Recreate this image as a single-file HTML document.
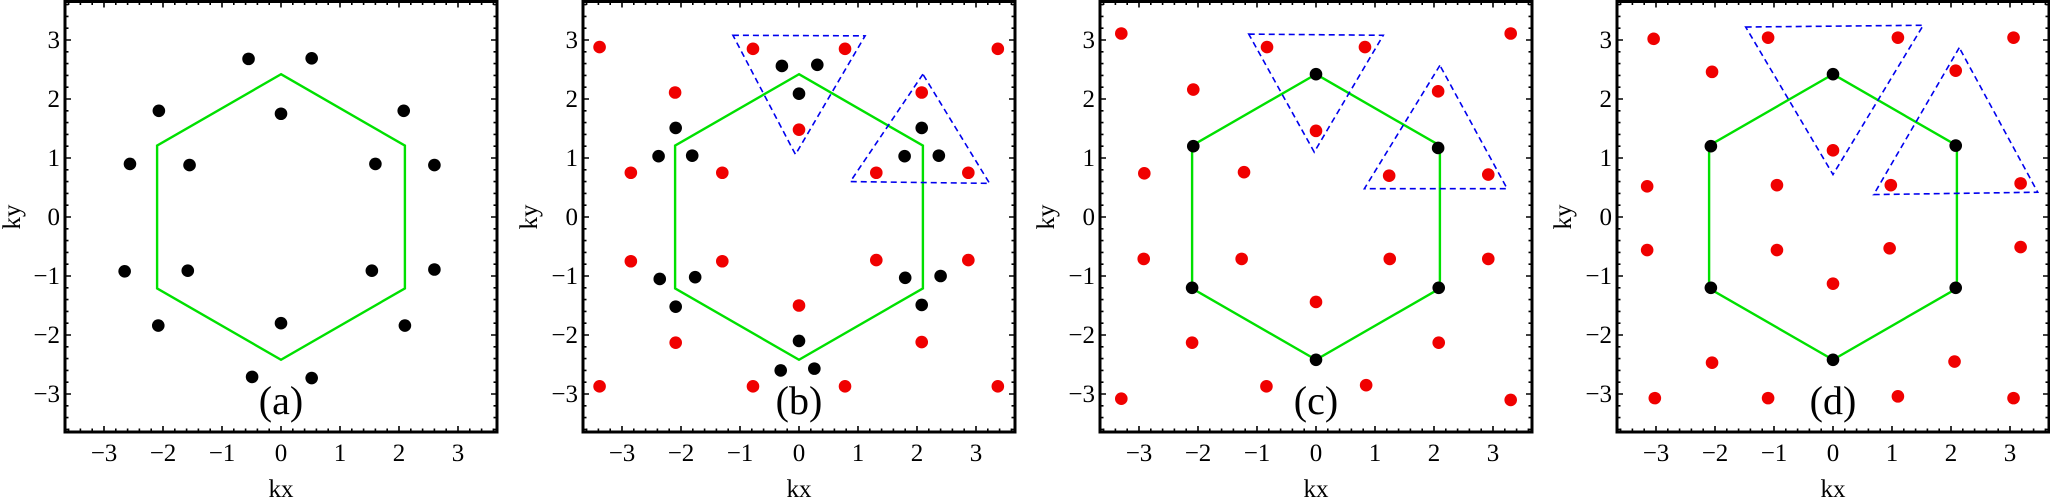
<!DOCTYPE html>
<html><head><meta charset="utf-8"><style>
html,body{margin:0;padding:0;background:#fff;width:2050px;height:500px;overflow:hidden}
svg text{font-family:"Liberation Serif",serif;fill:#000}
.t{font-size:25px}
.lab{font-size:25px}
.pl{font-size:40px}
</style></head><body>
<svg id="s" width="2050" height="500" viewBox="0 0 2050 500" xmlns="http://www.w3.org/2000/svg">
<g id="g"></g>
<g class="t" text-anchor="middle">
<text x="104" y="461">−3</text><text x="163" y="461">−2</text><text x="222" y="461">−1</text><text x="281" y="461">0</text><text x="340" y="461">1</text><text x="399" y="461">2</text><text x="458" y="461">3</text>
<text x="622" y="461">−3</text><text x="681" y="461">−2</text><text x="740" y="461">−1</text><text x="799" y="461">0</text><text x="858" y="461">1</text><text x="917" y="461">2</text><text x="976" y="461">3</text>
<text x="1139" y="461">−3</text><text x="1198" y="461">−2</text><text x="1257" y="461">−1</text><text x="1316" y="461">0</text><text x="1375" y="461">1</text><text x="1434" y="461">2</text><text x="1493" y="461">3</text>
<text x="1656" y="461">−3</text><text x="1715" y="461">−2</text><text x="1774" y="461">−1</text><text x="1833" y="461">0</text><text x="1892" y="461">1</text><text x="1951" y="461">2</text><text x="2010" y="461">3</text>
</g>
<g class="t" text-anchor="end">
<text x="60" y="48">3</text><text x="60" y="107">2</text><text x="60" y="166">1</text><text x="60" y="225">0</text><text x="60" y="284">−1</text><text x="60" y="343">−2</text><text x="60" y="402">−3</text>
<text x="578" y="48">3</text><text x="578" y="107">2</text><text x="578" y="166">1</text><text x="578" y="225">0</text><text x="578" y="284">−1</text><text x="578" y="343">−2</text><text x="578" y="402">−3</text>
<text x="1095" y="48">3</text><text x="1095" y="107">2</text><text x="1095" y="166">1</text><text x="1095" y="225">0</text><text x="1095" y="284">−1</text><text x="1095" y="343">−2</text><text x="1095" y="402">−3</text>
<text x="1612" y="48">3</text><text x="1612" y="107">2</text><text x="1612" y="166">1</text><text x="1612" y="225">0</text><text x="1612" y="284">−1</text><text x="1612" y="343">−2</text><text x="1612" y="402">−3</text>
</g>
<g class="lab" text-anchor="middle">
<text x="281" y="497">kx</text><text x="799" y="497">kx</text><text x="1316" y="497">kx</text><text x="1833" y="497">kx</text>
<text transform="translate(20,217) rotate(-90)">ky</text>
<text transform="translate(537,217) rotate(-90)">ky</text>
<text transform="translate(1054,217) rotate(-90)">ky</text>
<text transform="translate(1571,217) rotate(-90)">ky</text>
</g>
<g class="pl" text-anchor="middle">
<text x="281" y="414">(a)</text><text x="799" y="414">(b)</text><text x="1316" y="414">(c)</text><text x="1833" y="414">(d)</text>
</g>
</svg>
<script>
const NS="http://www.w3.org/2000/svg",G=document.getElementById("g");
const S=59,CY=217;
function el(n,a){const e=document.createElementNS(NS,n);for(const k in a)e.setAttribute(k,a[k]);G.appendChild(e);return e;}
const hex=[[0,2.42],[2.1,1.21],[2.1,-1.21],[0,-2.42],[-2.1,-1.21],[-2.1,1.21]];
const P=[
{cx:281,black:[[-0.55,2.68],[0.52,2.69],[-2.07,1.80],[2.08,1.80],[0,1.75],[-2.56,0.9],[-1.55,0.88],[1.6,0.9],[2.6,0.88],[-2.65,-0.92],[-1.58,-0.91],[1.54,-0.91],[2.6,-0.89],[-2.08,-1.84],[2.1,-1.84],[0,-1.8],[-0.49,-2.71],[0.52,-2.73]],red:[],tri:[]},
{cx:799,red:[[-3.38,2.88],[-0.78,2.85],[0.78,2.85],[3.37,2.85],[-2.1,2.11],[2.08,2.11],[0,1.48],[-2.85,0.75],[-1.3,0.75],[1.31,0.75],[2.87,0.75],[-2.85,-0.75],[-1.3,-0.75],[1.31,-0.73],[2.87,-0.73],[0,-1.5],[-2.09,-2.13],[2.08,-2.12],[-3.38,-2.87],[-0.78,-2.87],[0.78,-2.87],[3.37,-2.87]],
 black:[[-0.29,2.56],[0.31,2.58],[0,2.09],[-2.09,1.51],[-2.38,1.03],[-1.81,1.04],[2.08,1.51],[1.79,1.03],[2.37,1.04],[-2.36,-1.05],[-1.76,-1.02],[-2.09,-1.52],[1.8,-1.03],[2.4,-1.0],[2.08,-1.49],[0,-2.1],[-0.31,-2.6],[0.26,-2.57]],
 tri:[[[-1.12,3.08],[1.12,3.07],[-0.06,1.06]],[[2.1,2.42],[0.87,0.6],[3.23,0.57]]]},
{cx:1316,red:[[-3.3,3.11],[3.3,3.11],[-0.83,2.88],[0.83,2.88],[-2.08,2.16],[2.07,2.13],[0,1.46],[-2.91,0.74],[-1.22,0.76],[1.24,0.7],[2.92,0.72],[-2.92,-0.71],[-1.26,-0.71],[1.25,-0.71],[2.92,-0.71],[0,-1.44],[-2.1,-2.13],[2.08,-2.13],[-3.3,-3.08],[-0.84,-2.87],[0.85,-2.85],[3.3,-3.1]],
 black:[[0,2.42],[-2.08,1.2],[2.07,1.17],[-2.1,-1.2],[2.08,-1.2],[0,-2.42]],
 tri:[[[-1.14,3.1],[1.14,3.08],[-0.03,1.1]],[[2.1,2.57],[0.82,0.48],[3.24,0.48]]]},
{cx:1833,red:[[-3.04,3.02],[-1.1,3.04],[1.1,3.04],[3.06,3.04],[-2.05,2.46],[2.08,2.48],[0,1.13],[-3.15,0.52],[-0.95,0.54],[0.98,0.54],[3.18,0.57],[-3.15,-0.56],[-0.95,-0.56],[0.96,-0.53],[3.18,-0.51],[0,-1.13],[-2.05,-2.47],[2.06,-2.45],[-3.02,-3.07],[-1.1,-3.07],[1.1,-3.04],[3.06,-3.07]],
 black:[[0,2.42],[-2.07,1.2],[2.08,1.21],[-2.07,-1.2],[2.08,-1.2],[0,-2.42]],
 tri:[[[-1.48,3.22],[1.53,3.25],[0,0.72]],[[2.14,2.87],[0.69,0.38],[3.47,0.42]]]}
];
P.forEach(p=>{
 const X=v=>p.cx+v*S,Y=v=>CY-v*S,L=p.cx-216,R=p.cx+216,T=1.5,B=432;
 el("polygon",{points:hex.map(h=>X(h[0])+","+Y(h[1])).join(" "),fill:"none",stroke:"#00e000","stroke-width":2.4});
 p.tri.forEach(t=>el("polygon",{points:t.map(h=>X(h[0])+","+Y(h[1])).join(" "),fill:"none",stroke:"#0000ee","stroke-width":1.6,"stroke-dasharray":"6,4"}));
 p.red.forEach(d=>el("circle",{cx:X(d[0]),cy:Y(d[1]),r:6.3,fill:"#f00000"}));
 p.black.forEach(d=>el("circle",{cx:X(d[0]),cy:Y(d[1]),r:6.3,fill:"#000"}));
 let d="";
 for(let i=-18;i<=18;i++){const v=i*0.2,maj=(i%5===0),l=maj?6:3.5;const x=X(v),y=Y(v);
  if(x>L+1&&x<R-1){d+=`M${x},${B}v${-l}M${x},${T}v${l}`;}
  if(y>T+1&&y<B-1){d+=`M${L},${y}h${l}M${R},${y}h${-l}`;}}
 el("path",{d:d,stroke:"#000","stroke-width":1.6,fill:"none"});
 el("rect",{x:L,y:T,width:R-L,height:B-T,fill:"none",stroke:"#000","stroke-width":3});
});
</script>
</body></html>
